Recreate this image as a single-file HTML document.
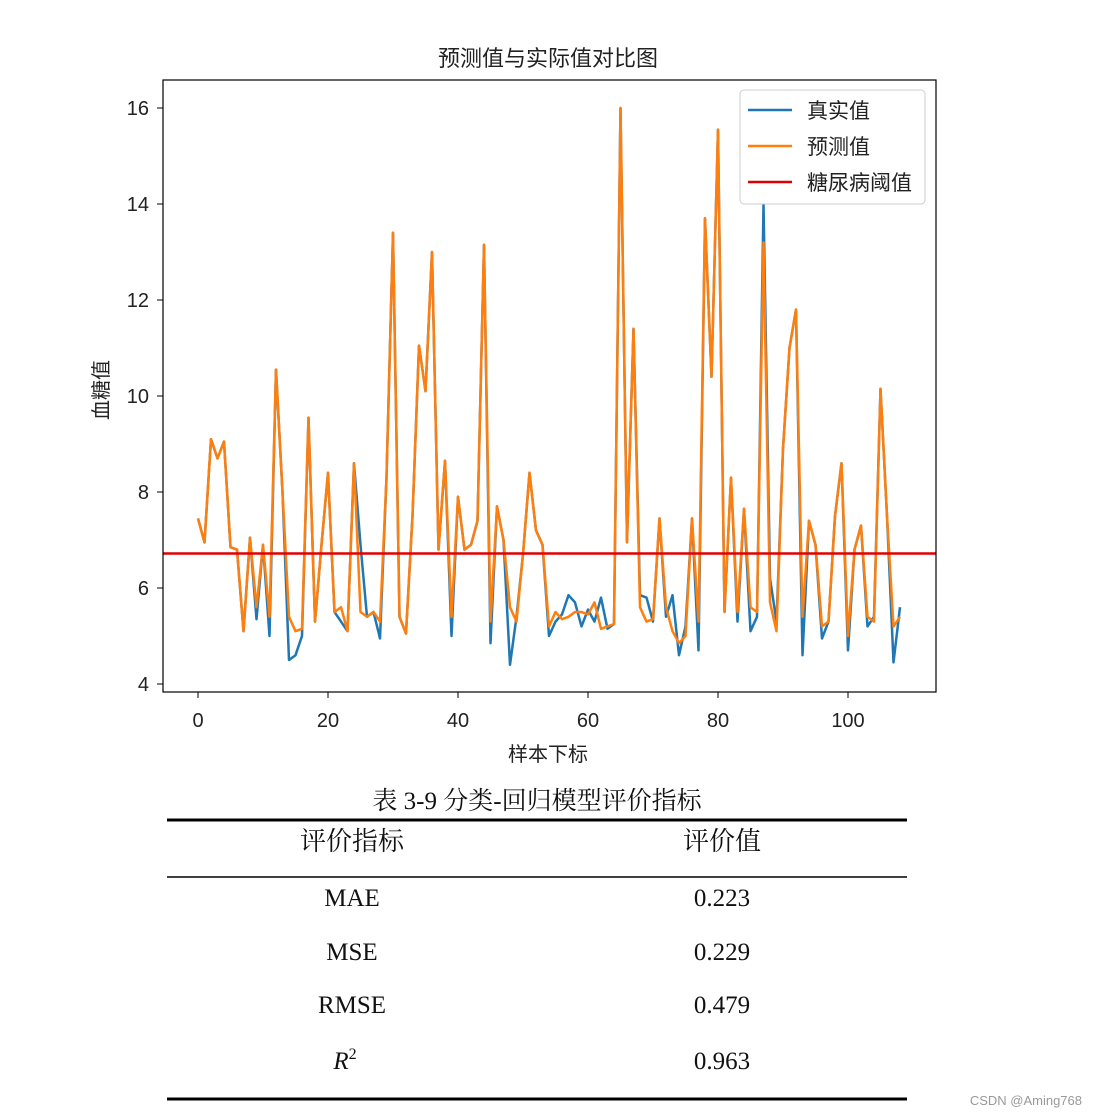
<!DOCTYPE html>
<html><head><meta charset="utf-8">
<style>
body{margin:0;background:#fff;width:1097px;height:1117px;overflow:hidden;position:relative}
svg{position:absolute;left:0;top:0}
.t{font-family:"Liberation Serif","Noto Serif CJK SC",serif;fill:#111}
.s{font-family:"Liberation Sans","Noto Sans CJK SC",sans-serif;fill:#222}
</style></head><body>
<svg id="chart" width="1097" height="1117" xmlns="http://www.w3.org/2000/svg">
<text class="s" x="548" y="66" font-size="22" text-anchor="middle">预测值与实际值对比图</text>
<g id="plot"></g>
<text class="s" x="548" y="761" font-size="20" text-anchor="middle">样本下标</text>
<text class="s" x="0" y="0" font-size="20" text-anchor="middle" transform="translate(108,390) rotate(-90)">血糖值</text>
<g>
<rect x="740" y="90" width="185" height="114" rx="4" fill="#fff" stroke="#ccc"/>
<line x1="748" y1="110" x2="792" y2="110" stroke="#1f77b4" stroke-width="2.5"/>
<text class="s" x="807" y="118" font-size="21">真实值</text>
<line x1="748" y1="146" x2="792" y2="146" stroke="#ff7f0e" stroke-width="2.5"/>
<text class="s" x="807" y="154" font-size="21">预测值</text>
<line x1="748" y1="182" x2="792" y2="182" stroke="#e00000" stroke-width="2.5"/>
<text class="s" x="807" y="190" font-size="21">糖尿病阈值</text>
</g>
<g>
<text class="t" x="537" y="809" font-size="25" text-anchor="middle">表 3-9 分类-回归模型评价指标</text>
<line x1="167" y1="820" x2="907" y2="820" stroke="#000" stroke-width="3"/>
<text class="t" x="352" y="850" font-size="26" text-anchor="middle">评价指标</text>
<text class="t" x="722" y="850" font-size="26" text-anchor="middle">评价值</text>
<line x1="167" y1="877" x2="907" y2="877" stroke="#000" stroke-width="1.5"/>
<text class="t" x="352" y="906" font-size="25" text-anchor="middle">MAE</text><text class="t" x="722" y="906" font-size="25" text-anchor="middle">0.223</text>
<text class="t" x="352" y="960" font-size="25" text-anchor="middle">MSE</text><text class="t" x="722" y="960" font-size="25" text-anchor="middle">0.229</text>
<text class="t" x="352" y="1013" font-size="25" text-anchor="middle">RMSE</text><text class="t" x="722" y="1013" font-size="25" text-anchor="middle">0.479</text>
<text class="t" x="345" y="1069" font-size="25" text-anchor="middle" font-style="italic">R<tspan dy="-10" font-size="16" font-style="normal">2</tspan></text><text class="t" x="722" y="1069" font-size="25" text-anchor="middle">0.963</text>
<line x1="167" y1="1099" x2="907" y2="1099" stroke="#000" stroke-width="3"/>
</g>
<text class="s" x="1082" y="1105" font-size="13" text-anchor="end" fill="#999" style="fill:#999">CSDN @Aming768</text>
</svg>
<script>
const actual=[7.45,6.95,9.1,8.7,9.05,6.85,6.8,5.1,7.05,5.35,6.9,5.0,10.55,8.0,4.5,4.6,5.0,9.55,5.3,6.9,8.4,5.5,5.3,5.1,8.6,6.9,5.4,5.5,4.95,8.3,13.4,5.4,5.05,7.5,11.05,10.1,13.0,6.8,8.65,5.0,7.9,6.8,6.9,7.4,13.15,4.85,7.7,7.0,4.4,5.4,6.7,8.4,7.2,6.9,5.0,5.3,5.45,5.85,5.7,5.2,5.55,5.3,5.8,5.15,5.25,16.0,6.95,11.4,5.85,5.8,5.3,7.45,5.4,5.85,4.6,5.2,7.45,4.7,13.7,10.4,15.55,5.5,8.3,5.3,7.65,5.1,5.4,14.0,6.2,5.3,8.9,11.0,11.8,4.6,7.4,6.9,4.95,5.3,7.5,8.6,4.7,6.8,7.3,5.2,5.4,10.15,7.5,4.45,5.6];
const predicted=[7.45,6.95,9.1,8.7,9.05,6.85,6.8,5.1,7.05,5.6,6.9,5.4,10.55,8.0,5.4,5.1,5.15,9.55,5.3,6.9,8.4,5.5,5.6,5.1,8.6,5.5,5.4,5.5,5.3,8.3,13.4,5.4,5.05,7.5,11.05,10.1,13.0,6.8,8.65,5.4,7.9,6.8,6.9,7.4,13.15,5.3,7.7,7.0,5.6,5.3,6.7,8.4,7.2,6.9,5.2,5.5,5.35,5.4,5.5,5.5,5.45,5.7,5.15,5.2,5.25,16.0,6.95,11.4,5.6,5.3,5.35,7.45,5.6,5.1,4.85,5.0,7.45,5.3,13.7,10.4,15.55,5.5,8.3,5.5,7.65,5.6,5.5,13.2,5.7,5.1,8.9,11.0,11.8,5.4,7.4,6.9,5.2,5.3,7.5,8.6,5.0,6.8,7.3,5.4,5.3,10.15,7.5,5.2,5.4];
const threshold=[6.72];
const xTicks=[0,20,40,60,80,100];
const yTicks=[4,6,8,10,12,14,16];
const NS="http://www.w3.org/2000/svg";
const L=163,R=936,T=80,B=692;
const xs=v=>198+v*6.5;
const ys=v=>684-(v-4)*48;
const g=document.getElementById('plot');
function mk(tag,attrs){const e=document.createElementNS(NS,tag);for(const k in attrs)e.setAttribute(k,attrs[k]);g.appendChild(e);return e;}
xTicks.forEach(t=>{const l=mk('line',{x1:xs(t),x2:xs(t),y1:B,y2:B+6,stroke:'#000'});


const tx=mk('text',{x:xs(t),y:B+35,'font-size':20,'text-anchor':'middle',class:'s'});tx.textContent=t;

});
yTicks.forEach(t=>{const l=mk('line',{x1:L-6,x2:L,y1:ys(t),y2:ys(t),stroke:'#000'});


const tx=mk('text',{x:L-14,y:ys(t)+7,'font-size':20,'text-anchor':'end',class:'s'});tx.textContent=t;

});
function line(arr,color,name){const p=mk('polyline',{points:arr.map((v,i)=>xs(i)+','+ys(v)).join(' '),fill:'none',stroke:color,'stroke-width':2.5,'stroke-linejoin':'round'});

}
line(actual,'#1f77b4','actual-series');
line(predicted,'#ff7f0e','predicted-series');
const th=mk('line',{x1:L,x2:R,y1:ys(threshold[0]),y2:ys(threshold[0]),stroke:'#e00000','stroke-width':2.5});


const fr=mk('rect',{x:L,y:T,width:R-L,height:B-T,fill:'none',stroke:'#000','stroke-width':1.2});


</script>
</body></html>
